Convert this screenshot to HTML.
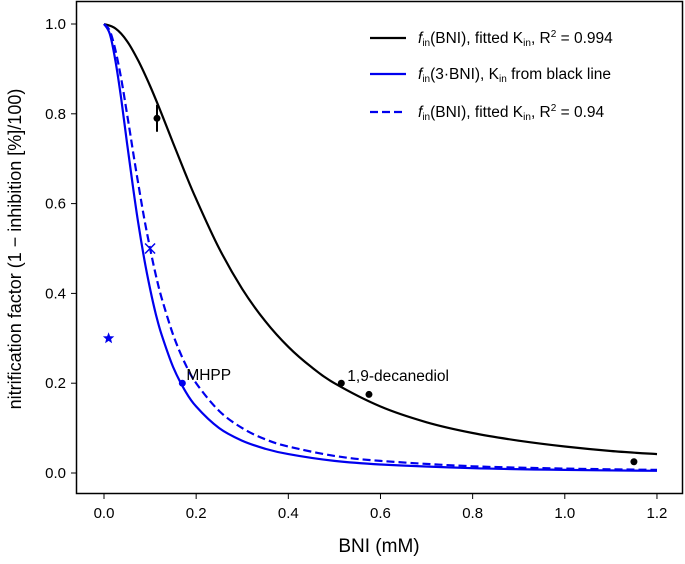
<!DOCTYPE html>
<html><head><meta charset="utf-8"><style>
body{margin:0;background:#fff}
svg{font-family:"Liberation Sans",sans-serif}
</style></head><body>
<svg id="chart" width="685" height="559" xmlns="http://www.w3.org/2000/svg">
<rect x="76.5" y="1.5" width="606" height="492" fill="none" stroke="#000" stroke-width="1.5"/>
<g id="xticks"></g>
<g id="yticks"></g>
<g id="curves"></g>
<g id="points"></g>
<text x="379" y="552" font-size="19" text-anchor="middle">BNI (mM)</text>
<text transform="translate(21,249) rotate(-90)" font-size="18" text-anchor="middle">nitrification factor (1 − inhibition [%]/100)</text>
<g font-size="15.5">
 <g><line x1="370" y1="38" x2="406" y2="38" stroke="#000" stroke-width="2.2"/><text x="418" y="43"><tspan font-style="italic">f</tspan><tspan font-size="10" dy="3">in</tspan><tspan dy="-3">(BNI), fitted K</tspan><tspan font-size="10" dy="3">in</tspan><tspan dy="-3">, R</tspan><tspan font-size="10" dy="-6">2</tspan><tspan dy="6"> = 0.994</tspan></text></g>
 <g><line x1="370" y1="74" x2="406" y2="74" stroke="#0000ee" stroke-width="2.2"/><text x="418" y="79"><tspan font-style="italic">f</tspan><tspan font-size="10" dy="3">in</tspan><tspan dy="-3">(3·BNI), K</tspan><tspan font-size="10" dy="3">in</tspan><tspan dy="-3"> from black line</tspan></text></g>
 <g><line x1="370" y1="112" x2="406" y2="112" stroke="#0000ee" stroke-width="2.2" stroke-dasharray="8,4"/><text x="418" y="117"><tspan font-style="italic">f</tspan><tspan font-size="10" dy="3">in</tspan><tspan dy="-3">(BNI), fitted K</tspan><tspan font-size="10" dy="3">in</tspan><tspan dy="-3">, R</tspan><tspan font-size="10" dy="-6">2</tspan><tspan dy="6"> = 0.94</tspan></text></g>
</g>
</svg>
<script>
const xTicks=[0,0.2,0.4,0.6,0.8,1.0,1.2];
const xTickLabels=["0.0","0.2","0.4","0.6","0.8","1.0","1.2"];
const yTicks=[0,0.2,0.4,0.6,0.8,1.0];
const yTickLabels=["0.0","0.2","0.4","0.6","0.8","1.0"];
const blackX=[0,0.025,0.05,0.075,0.1,0.125,0.15,0.175,0.2,0.25,0.3,0.35,0.4,0.45,0.5,0.6,0.7,0.8,0.9,1.0,1.1,1.2];
const blackY=[1,0.990,0.962,0.917,0.862,0.8,0.735,0.671,0.610,0.5,0.410,0.338,0.281,0.236,0.2,0.148,0.113,0.089,0.072,0.059,0.049,0.042];
const blueX=[0,0.0125,0.025,0.0375,0.05,0.0625,0.075,0.0875,0.1,0.1125,0.125,0.15,0.175,0.2,0.25,0.3,0.35,0.4,0.5,0.6,0.8,1.0,1.2];
const blueSolidY=[1,0.978,0.917,0.832,0.735,0.640,0.552,0.476,0.410,0.354,0.308,0.236,0.185,0.148,0.1,0.072,0.054,0.042,0.027,0.019,0.0107,0.0069,0.0048];
const blueDashedY=[1,0.985,0.941,0.877,0.8,0.719,0.640,0.566,0.5,0.441,0.390,0.308,0.246,0.2,0.138,0.1,0.075,0.059,0.038,0.027,0.015,0.0099,0.0069];
const blackPtsX=[0.115,0.515,0.575,1.15];
const blackPtsY=[0.79,0.2,0.175,0.025];
const blackErr=[0.03,0,0,0];
const starPt=[0.01,0.3];
const crossPt=[0.1,0.5];
const mhppPt=[0.17,0.2];
const ns="http://www.w3.org/2000/svg";
const X=v=>104+v*460.8, Y=v=>473-v*449;
function mk(t,a,p){const e=document.createElementNS(ns,t);for(const k in a)e.setAttribute(k,a[k]);p.appendChild(e);return e;}
const xg=document.getElementById('xticks'),yg=document.getElementById('yticks');
xTicks.forEach((v,i)=>{
 const l=mk('line',{x1:X(v),x2:X(v),y1:494,y2:499,stroke:'#000'},xg);
 
 
 const t=mk('text',{x:X(v),y:518,'font-size':15,'text-anchor':'middle'},xg);t.textContent=xTickLabels[i];
 
 
});
yTicks.forEach((v,i)=>{
 const l=mk('line',{x1:71,x2:76,y1:Y(v),y2:Y(v),stroke:'#000'},yg);
 
 
 const t=mk('text',{x:66,y:Y(v)+5,'font-size':15,'text-anchor':'end'},yg);t.textContent=yTickLabels[i];
 
 
});
const cg=document.getElementById('curves');
function curve(xs,ys,col,dash,name){
 const P=xs.map((x,i)=>[X(x),Y(ys[i])]);
 let d='M'+P[0][0].toFixed(1)+','+P[0][1].toFixed(1);
 for(let i=0;i<P.length-1;i++){
  const p0=P[Math.max(i-1,0)],p1=P[i],p2=P[i+1],p3=P[Math.min(i+2,P.length-1)];
  const c1=[p1[0]+(p2[0]-p0[0])/6,p1[1]+(p2[1]-p0[1])/6],c2=[p2[0]-(p3[0]-p1[0])/6,p2[1]-(p3[1]-p1[1])/6];
  d+='C'+c1.map(v=>v.toFixed(1))+' '+c2.map(v=>v.toFixed(1))+' '+p2.map(v=>v.toFixed(1));
 }
 const p=mk('path',{d:d,fill:'none',stroke:col,'stroke-width':2.2,'stroke-linejoin':'round'},cg);
 if(dash)p.setAttribute('stroke-dasharray',dash);
 
 
}
curve(blackX,blackY,'#000',null,'black-fit-line');
curve(blueX,blueSolidY,'#0000ee',null,'blue-solid-line');
curve(blueX,blueDashedY,'#0000ee','8,4','blue-dashed-line');
const pg=document.getElementById('points');
blackPtsX.forEach((v,i)=>{
 if(blackErr[i]){const e=mk('line',{x1:X(v),x2:X(v),y1:Y(blackPtsY[i]+blackErr[i]),y2:Y(blackPtsY[i]-blackErr[i]),stroke:'#000','stroke-width':2},pg);
  
  }
 const c=mk('circle',{cx:X(v),cy:Y(blackPtsY[i]),r:3.5,fill:'#000'},pg);
 
 
});
const sx=X(starPt[0]),sy=Y(starPt[1]);let sp='';
for(let k=0;k<10;k++){const r=k%2?2.6:6,a=-Math.PI/2+k*Math.PI/5;sp+=(sx+r*Math.cos(a)).toFixed(1)+','+(sy+r*Math.sin(a)).toFixed(1)+' ';}
const st=mk('polygon',{points:sp,fill:'#0000ee'},pg);


const cx=X(crossPt[0]),cy=Y(crossPt[1]);
const cr=mk('path',{d:`M${cx-5},${cy-5}L${cx+5},${cy+5}M${cx-5},${cy+5}L${cx+5},${cy-5}`,stroke:'#0000ee','stroke-width':1.5},pg);


const mp=mk('circle',{cx:X(mhppPt[0]),cy:Y(mhppPt[1]),r:3.5,fill:'#0000ee'},pg);


const t1=mk('text',{x:X(mhppPt[0])+4,y:Y(mhppPt[1])-3,'font-size':15.5},pg);t1.textContent='MHPP';


const t2=mk('text',{x:X(blackPtsX[1])+6,y:Y(blackPtsY[1])-2,'font-size':15.5},pg);t2.textContent='1,9-decanediol';


</script>
</body></html>
